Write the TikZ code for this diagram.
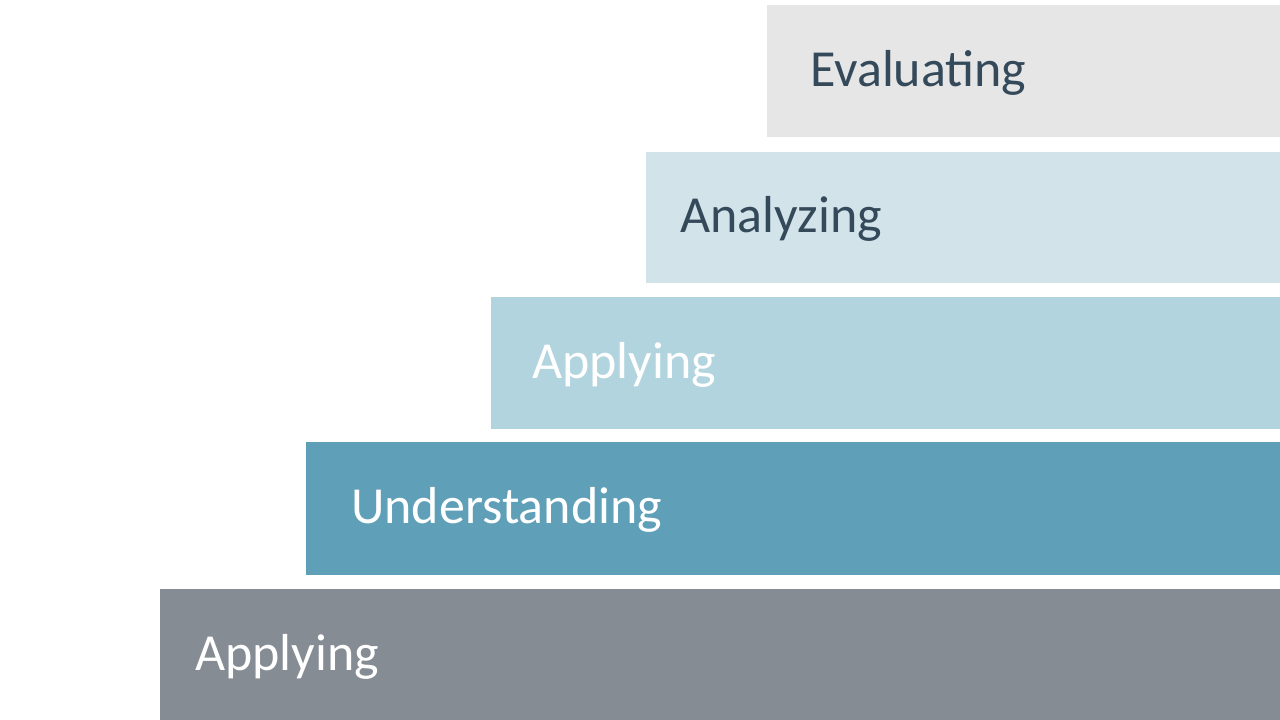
\documentclass[tikz,border=0pt]{standalone}
\usepackage{fontspec}
\setmainfont{Carlito}
\definecolor{cE}{HTML}{E6E6E6}
\definecolor{cA}{HTML}{D2E3EA}
\definecolor{cP}{HTML}{B1D4DF}
\definecolor{cU}{HTML}{5FA0B8}
\definecolor{cB}{HTML}{858C94}
\definecolor{dark}{HTML}{34495A}
\begin{document}
\begin{tikzpicture}[x=1pt,y=-1pt,
  bar/.style={inner sep=0pt,anchor=west,font=\fontsize{52}{60}\selectfont}]
\useasboundingbox[fill=white] (0,0) rectangle (1280,720);
\fill[cE] (767,5) rectangle (1280,137);
\fill[cA] (646,152) rectangle (1280,283);
\fill[cP] (491,297) rectangle (1280,429);
\fill[cU] (306,442) rectangle (1280,575);
\fill[cB] (160,589) rectangle (1280,720);
\node[bar,text=dark] (e) at (810,73) {Evaluating};
\node[bar,text=dark] (a) at (680,219) {Analyzing};
\node[bar,text=white] (p) at (532,365) {Applying};
\node[bar,text=white] (u) at (351,510) {Understanding};
\node[bar,text=white] (b) at (195,657) {Applying};
\end{tikzpicture}
\end{document}
